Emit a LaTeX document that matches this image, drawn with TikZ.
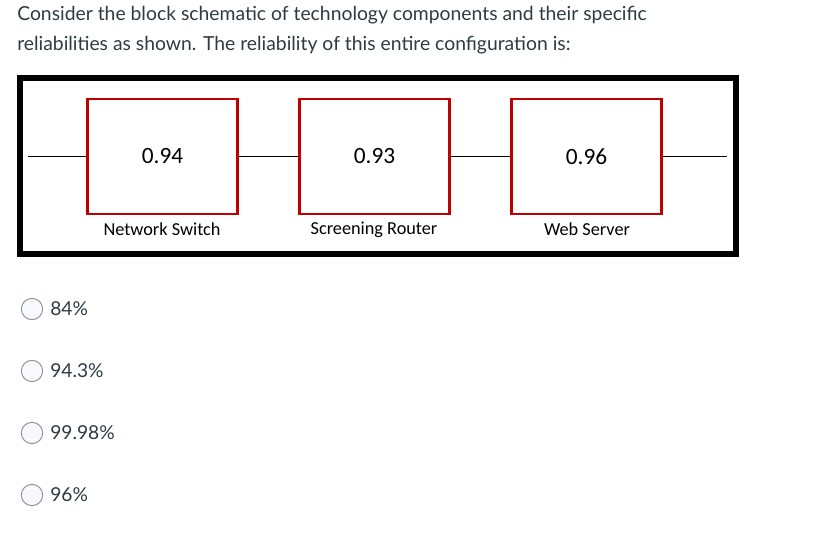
\documentclass[tikz,border=0pt]{standalone}
\usepackage{fontspec}
\setmainfont{Lato}
\newfontfamily\calfont{Carlito}
\definecolor{txt}{HTML}{2D3B45}
\definecolor{boxred}{HTML}{C00000}
\definecolor{radiofill}{HTML}{F8F9FD}
\definecolor{radioline}{HTML}{8A8F95}
\begin{document}
\begin{tikzpicture}[x=0.75pt,y=-0.75pt,
  comp/.style={draw=boxred,line width=1.9pt,minimum width=112.5pt,minimum height=86pt,inner sep=0pt,
    font=\calfont\fontsize{17.5}{20}\selectfont,text=black},
  complabel/.style={font=\calfont\fontsize{13.7}{16}\selectfont,text=black,inner sep=0pt},
  wire/.style={line width=1.2pt,black},
  qtext/.style={anchor=base west,inner sep=0pt,font=\fontsize{14.5}{17}\selectfont,text=txt},
  radio/.style={circle,draw=radioline,fill=radiofill,line width=0.7pt,minimum size=16pt,inner sep=0pt},
  opt/.style={anchor=west,inner sep=0pt,font=\fontsize{14.4}{17}\selectfont,text=txt}]
\useasboundingbox (0,0) rectangle (838,545);
\fill[white] (0,0) rectangle (838,545);
% question
\node[qtext] (q1) at (17,21) {Consider the block schematic of technology components and their specific};
\node[qtext] (q2) at (17,51) {reliabilities as shown. The reliability of this entire configuration is:};
% frame
\draw[line width=4.5pt,black] (20,78) rectangle (736,254);
% components
\node[comp] (b1) at (162.5,156.5) {0.94};
\node[comp] (b2) at (374.5,156.5) {0.93};
\node[comp] (b3) at (586.5,156.5) {0.96};
\node[complabel] (l1) at (162,229) {Network Switch};
\node[complabel] (l2) at (374,230) {Screening Router};
\node[complabel] (l3) at (587,229) {Web Server};
\coordinate (in) at (28,156.5);
\coordinate (out) at (727,156.5);
\draw[wire] (in) -- (b1.west);
\draw[wire] (b1.east) -- (b2.west);
\draw[wire] (b2.east) -- (b3.west);
\draw[wire] (b3.east) -- (out);
% options
\node[radio] (r1) at (32,309) {};
\node[radio] (r2) at (32,371) {};
\node[radio] (r3) at (32,433) {};
\node[radio] (r4) at (32,495) {};
\node[opt] (o1) at (50,309) {84\%};
\node[opt] (o2) at (50,371) {94.3\%};
\node[opt] (o3) at (50,433) {99.98\%};
\node[opt] (o4) at (50,495) {96\%};
\end{tikzpicture}
\end{document}
